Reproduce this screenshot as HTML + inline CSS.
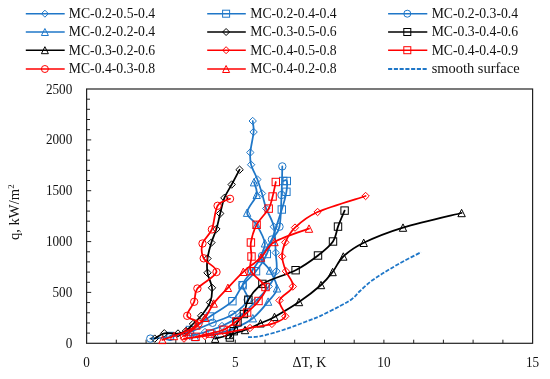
<!DOCTYPE html><html><head><meta charset="utf-8"><title>Boiling curves</title>
<style>html,body{margin:0;padding:0;background:#fff}svg{display:block}text{font-family:"Liberation Serif","DejaVu Serif",serif;fill:#111}</style></head><body>
<svg width="550" height="379" viewBox="0 0 550 379">
<rect width="550" height="379" fill="#fff"/>
<rect x="86.6" y="89.0" width="446.0" height="254.3" fill="none" stroke="#222" stroke-width="1.2"/>
<path d="M116.3 343.3V339.7M146.1 343.3V339.7M175.8 343.3V339.7M205.5 343.3V339.7M235.3 343.3V339.7M265.0 343.3V339.7M294.7 343.3V339.7M324.5 343.3V339.7M354.2 343.3V339.7M383.9 343.3V339.7M413.7 343.3V339.7M443.4 343.3V339.7M473.1 343.3V339.7M502.9 343.3V339.7M86.6 333.1H90.0M86.6 323.0H90.0M86.6 312.8H90.0M86.6 302.6H90.0M86.6 292.4H91.2M86.6 282.3H90.0M86.6 272.1H90.0M86.6 261.9H90.0M86.6 251.8H90.0M86.6 241.6H91.2M86.6 231.4H90.0M86.6 221.2H90.0M86.6 211.1H90.0M86.6 200.9H90.0M86.6 190.7H91.2M86.6 180.5H90.0M86.6 170.4H90.0M86.6 160.2H90.0M86.6 150.0H90.0M86.6 139.9H91.2M86.6 129.7H90.0M86.6 119.5H90.0M86.6 109.3H90.0M86.6 99.2H90.0" stroke="#222" stroke-width="1" fill="none"/>
<text x="65.7" y="347.8" font-size="14" textLength="6.6" lengthAdjust="spacingAndGlyphs">0</text>
<text x="52.5" y="296.9" font-size="14" textLength="19.8" lengthAdjust="spacingAndGlyphs">500</text>
<text x="45.9" y="246.1" font-size="14" textLength="26.4" lengthAdjust="spacingAndGlyphs">1000</text>
<text x="45.9" y="195.2" font-size="14" textLength="26.4" lengthAdjust="spacingAndGlyphs">1500</text>
<text x="45.9" y="144.4" font-size="14" textLength="26.4" lengthAdjust="spacingAndGlyphs">2000</text>
<text x="45.9" y="93.5" font-size="14" textLength="26.4" lengthAdjust="spacingAndGlyphs">2500</text>
<text x="83.3" y="367.4" font-size="14" textLength="6.6" lengthAdjust="spacingAndGlyphs">0</text>
<text x="232.0" y="367.4" font-size="14" textLength="6.6" lengthAdjust="spacingAndGlyphs">5</text>
<text x="377.3" y="367.4" font-size="14" textLength="13.2" lengthAdjust="spacingAndGlyphs">10</text>
<text x="526.0" y="367.4" font-size="14" textLength="13.2" lengthAdjust="spacingAndGlyphs">15</text>
<text x="292.6" y="367.4" font-size="14" textLength="33.7" lengthAdjust="spacingAndGlyphs">ΔT, K</text>
<text transform="translate(18.6 240.1) rotate(-90)" font-size="14" textLength="55.7" lengthAdjust="spacingAndGlyphs">q, kW/m<tspan dy="-4.5" font-size="8.5">2</tspan></text>
<path d="M248.0 337.2 C250.0 337.1 255.5 337.1 260.0 336.3 C264.5 335.5 270.0 333.9 275.0 332.5 C280.0 331.1 285.0 329.4 290.0 327.7 C295.0 325.9 299.8 324.0 305.0 322.0 C310.2 320.0 315.2 318.3 321.0 315.6 C326.8 312.9 334.8 308.8 340.0 306.0 C345.2 303.2 348.7 301.5 352.0 299.0 C355.3 296.5 357.0 293.8 360.0 291.0 C363.0 288.2 366.7 284.6 370.0 282.0 C373.3 279.4 376.7 277.4 380.0 275.2 C383.3 273.0 386.0 271.4 390.0 269.0 C394.0 266.6 398.8 263.8 404.0 261.0 C409.2 258.2 418.2 253.7 421.0 252.2" fill="none" stroke="#1f77c8" stroke-width="1.8" stroke-dasharray="4.1 1.65"/>
<g>
<path d="M252.7 121.0 C252.8 122.8 254.0 126.8 253.6 132.0 C253.2 137.2 250.7 147.1 250.3 152.5 C249.9 157.9 249.9 160.2 251.1 164.7 C252.3 169.2 255.6 174.7 257.4 179.5 C259.2 184.3 260.5 188.7 262.0 193.5 C263.5 198.3 264.2 203.0 266.2 208.5 C268.2 214.0 272.2 219.3 273.8 226.7 C275.4 234.1 275.3 245.3 275.7 252.7 C276.1 260.1 277.6 265.6 276.4 271.2 C275.2 276.8 272.3 281.3 268.7 286.4 C265.1 291.5 259.8 297.1 255.0 302.0 C250.2 306.9 245.5 312.0 240.0 316.0 C234.5 320.0 227.8 323.3 222.0 326.0 C216.2 328.7 210.3 330.3 205.0 332.0 C199.7 333.7 192.5 335.3 190.0 336.0" fill="none" stroke="#1f77c8" stroke-width="1.75" stroke-linejoin="round" stroke-linecap="round"/>
<path d="M252.7 117.3L256.4 121.0L252.7 124.7L249.0 121.0Z" fill="none" stroke="#1f77c8" stroke-width="1.0"/><path d="M253.6 128.3L257.3 132.0L253.6 135.7L249.9 132.0Z" fill="none" stroke="#1f77c8" stroke-width="1.0"/><path d="M250.3 148.8L254.0 152.5L250.3 156.2L246.6 152.5Z" fill="none" stroke="#1f77c8" stroke-width="1.0"/><path d="M251.1 161.0L254.8 164.7L251.1 168.4L247.4 164.7Z" fill="none" stroke="#1f77c8" stroke-width="1.0"/><path d="M257.4 175.8L261.1 179.5L257.4 183.2L253.7 179.5Z" fill="none" stroke="#1f77c8" stroke-width="1.0"/><path d="M262.0 189.8L265.7 193.5L262.0 197.2L258.3 193.5Z" fill="none" stroke="#1f77c8" stroke-width="1.0"/><path d="M266.2 204.8L269.9 208.5L266.2 212.2L262.5 208.5Z" fill="none" stroke="#1f77c8" stroke-width="1.0"/><path d="M273.8 223.0L277.5 226.7L273.8 230.4L270.1 226.7Z" fill="none" stroke="#1f77c8" stroke-width="1.0"/><path d="M275.7 249.0L279.4 252.7L275.7 256.4L272.0 252.7Z" fill="none" stroke="#1f77c8" stroke-width="1.0"/><path d="M276.4 267.5L280.1 271.2L276.4 274.9L272.7 271.2Z" fill="none" stroke="#1f77c8" stroke-width="1.0"/><path d="M268.7 282.7L272.4 286.4L268.7 290.1L265.0 286.4Z" fill="none" stroke="#1f77c8" stroke-width="1.0"/><path d="M255.0 298.3L258.7 302.0L255.0 305.7L251.3 302.0Z" fill="none" stroke="#1f77c8" stroke-width="1.0"/><path d="M240.0 312.3L243.7 316.0L240.0 319.7L236.3 316.0Z" fill="none" stroke="#1f77c8" stroke-width="1.0"/><path d="M222.0 322.3L225.7 326.0L222.0 329.7L218.3 326.0Z" fill="none" stroke="#1f77c8" stroke-width="1.0"/><path d="M205.0 328.3L208.7 332.0L205.0 335.7L201.3 332.0Z" fill="none" stroke="#1f77c8" stroke-width="1.0"/><path d="M190.0 332.3L193.7 336.0L190.0 339.7L186.3 336.0Z" fill="none" stroke="#1f77c8" stroke-width="1.0"/>
</g>
<g>
<path d="M283.2 181.0 C283.8 181.0 286.3 179.2 286.8 181.0 C287.3 182.8 287.2 187.1 286.4 191.8 C285.6 196.6 285.1 199.1 281.8 209.5 C278.5 219.9 271.1 243.7 266.8 254.0 C262.5 264.3 260.0 266.0 256.0 271.2 C252.0 276.4 246.5 280.2 242.6 285.2 C238.7 290.2 237.8 296.0 232.4 301.2 C227.0 306.4 217.1 311.7 210.0 316.5 C202.9 321.3 196.7 326.8 190.0 330.0 C183.3 333.2 173.3 335.0 170.0 336.0" fill="none" stroke="#1f77c8" stroke-width="1.75" stroke-linejoin="round" stroke-linecap="round"/>
<rect x="279.5" y="177.3" width="7.4" height="7.4" fill="none" stroke="#1f77c8" stroke-width="1.0"/><rect x="283.1" y="177.3" width="7.4" height="7.4" fill="none" stroke="#1f77c8" stroke-width="1.0"/><rect x="282.7" y="188.1" width="7.4" height="7.4" fill="none" stroke="#1f77c8" stroke-width="1.0"/><rect x="278.1" y="205.8" width="7.4" height="7.4" fill="none" stroke="#1f77c8" stroke-width="1.0"/><rect x="263.1" y="250.3" width="7.4" height="7.4" fill="none" stroke="#1f77c8" stroke-width="1.0"/><rect x="252.3" y="267.5" width="7.4" height="7.4" fill="none" stroke="#1f77c8" stroke-width="1.0"/><rect x="238.9" y="281.5" width="7.4" height="7.4" fill="none" stroke="#1f77c8" stroke-width="1.0"/><rect x="228.7" y="297.5" width="7.4" height="7.4" fill="none" stroke="#1f77c8" stroke-width="1.0"/><rect x="206.3" y="312.8" width="7.4" height="7.4" fill="none" stroke="#1f77c8" stroke-width="1.0"/><rect x="186.3" y="326.3" width="7.4" height="7.4" fill="none" stroke="#1f77c8" stroke-width="1.0"/><rect x="166.3" y="332.3" width="7.4" height="7.4" fill="none" stroke="#1f77c8" stroke-width="1.0"/>
</g>
<g>
<path d="M282.3 166.4 C282.2 171.2 282.0 184.9 281.5 195.0 C281.0 205.1 281.1 219.3 279.5 226.7 C277.9 234.1 274.8 234.6 271.9 239.5 C269.0 244.4 265.3 250.8 262.0 256.0 C258.7 261.2 255.2 266.1 252.0 271.0 C248.8 275.9 243.3 280.3 242.6 285.1 C241.9 289.9 249.4 294.8 247.7 299.7 C246.0 304.6 238.2 310.6 232.4 314.5 C226.6 318.4 219.7 319.9 212.6 322.8 C205.5 325.7 197.1 329.6 190.0 332.0 C182.9 334.4 176.6 335.9 170.0 337.0 C163.4 338.1 153.6 338.3 150.3 338.6" fill="none" stroke="#1f77c8" stroke-width="1.75" stroke-linejoin="round" stroke-linecap="round"/>
<circle cx="282.3" cy="166.4" r="3.7" fill="none" stroke="#1f77c8" stroke-width="1.0"/><circle cx="281.5" cy="195.0" r="3.7" fill="none" stroke="#1f77c8" stroke-width="1.0"/><circle cx="279.5" cy="226.7" r="3.7" fill="none" stroke="#1f77c8" stroke-width="1.0"/><circle cx="271.9" cy="239.5" r="3.7" fill="none" stroke="#1f77c8" stroke-width="1.0"/><circle cx="262.0" cy="256.0" r="3.7" fill="none" stroke="#1f77c8" stroke-width="1.0"/><circle cx="252.0" cy="271.0" r="3.7" fill="none" stroke="#1f77c8" stroke-width="1.0"/><circle cx="242.6" cy="285.1" r="3.7" fill="none" stroke="#1f77c8" stroke-width="1.0"/><circle cx="247.7" cy="299.7" r="3.7" fill="none" stroke="#1f77c8" stroke-width="1.0"/><circle cx="232.4" cy="314.5" r="3.7" fill="none" stroke="#1f77c8" stroke-width="1.0"/><circle cx="212.6" cy="322.8" r="3.7" fill="none" stroke="#1f77c8" stroke-width="1.0"/><circle cx="190.0" cy="332.0" r="3.7" fill="none" stroke="#1f77c8" stroke-width="1.0"/><circle cx="170.0" cy="337.0" r="3.7" fill="none" stroke="#1f77c8" stroke-width="1.0"/><circle cx="150.3" cy="338.6" r="3.7" fill="none" stroke="#1f77c8" stroke-width="1.0"/>
</g>
<g>
<path d="M254.0 182.2 C254.4 184.3 257.8 189.7 256.7 194.8 C255.5 199.9 247.1 207.7 247.1 212.7 C247.1 217.7 253.6 219.7 256.6 224.8 C259.6 229.9 264.2 237.7 264.9 243.3 C265.6 248.9 260.1 254.0 261.0 258.5 C261.9 263.0 267.3 265.5 270.0 270.5 C272.7 275.5 277.3 283.1 277.0 288.3 C276.7 293.5 272.1 296.6 268.1 301.6 C264.1 306.6 258.3 313.8 252.8 318.2 C247.3 322.6 241.3 325.4 235.0 328.0 C228.7 330.6 221.7 332.5 215.0 334.0 C208.3 335.5 198.3 336.5 195.0 337.0" fill="none" stroke="#1f77c8" stroke-width="1.75" stroke-linejoin="round" stroke-linecap="round"/>
<path d="M254.0 178.5L257.7 185.9L250.3 185.9Z" fill="none" stroke="#1f77c8" stroke-width="1.0"/><path d="M256.7 191.1L260.4 198.5L253.0 198.5Z" fill="none" stroke="#1f77c8" stroke-width="1.0"/><path d="M247.1 209.0L250.8 216.4L243.4 216.4Z" fill="none" stroke="#1f77c8" stroke-width="1.0"/><path d="M256.6 221.1L260.3 228.5L252.9 228.5Z" fill="none" stroke="#1f77c8" stroke-width="1.0"/><path d="M264.9 239.6L268.6 247.0L261.2 247.0Z" fill="none" stroke="#1f77c8" stroke-width="1.0"/><path d="M261.0 254.8L264.7 262.2L257.3 262.2Z" fill="none" stroke="#1f77c8" stroke-width="1.0"/><path d="M270.0 266.8L273.7 274.2L266.3 274.2Z" fill="none" stroke="#1f77c8" stroke-width="1.0"/><path d="M277.0 284.6L280.7 292.0L273.3 292.0Z" fill="none" stroke="#1f77c8" stroke-width="1.0"/><path d="M268.1 297.9L271.8 305.3L264.4 305.3Z" fill="none" stroke="#1f77c8" stroke-width="1.0"/><path d="M252.8 314.5L256.5 321.9L249.1 321.9Z" fill="none" stroke="#1f77c8" stroke-width="1.0"/><path d="M235.0 324.3L238.7 331.7L231.3 331.7Z" fill="none" stroke="#1f77c8" stroke-width="1.0"/><path d="M215.0 330.3L218.7 337.7L211.3 337.7Z" fill="none" stroke="#1f77c8" stroke-width="1.0"/><path d="M195.0 333.3L198.7 340.7L191.3 340.7Z" fill="none" stroke="#1f77c8" stroke-width="1.0"/>
</g>
<g>
<path d="M239.6 169.7 C238.3 172.2 234.2 179.8 231.7 184.5 C229.2 189.2 226.3 193.1 224.4 197.9 C222.5 202.7 221.5 208.3 220.2 213.5 C218.9 218.7 217.9 224.2 216.4 229.0 C214.9 233.8 212.9 237.7 211.4 242.6 C209.9 247.5 208.2 253.5 207.5 258.5 C206.8 263.5 206.8 267.9 207.5 272.8 C208.2 277.7 211.6 282.9 212.0 287.8 C212.4 292.8 211.8 297.8 210.0 302.5 C208.2 307.2 204.0 312.2 201.2 315.8 C198.4 319.4 195.5 321.5 193.0 324.0 C190.5 326.5 188.5 329.4 186.0 331.0 C183.5 332.6 181.6 333.1 178.0 333.5 C174.4 333.9 168.2 332.4 164.3 333.3 C160.4 334.2 156.3 337.7 154.7 338.6" fill="none" stroke="#000000" stroke-width="1.75" stroke-linejoin="round" stroke-linecap="round"/>
<path d="M239.6 166.0L243.3 169.7L239.6 173.4L235.9 169.7Z" fill="none" stroke="#000000" stroke-width="1.0"/><path d="M231.7 180.8L235.4 184.5L231.7 188.2L228.0 184.5Z" fill="none" stroke="#000000" stroke-width="1.0"/><path d="M224.4 194.2L228.1 197.9L224.4 201.6L220.7 197.9Z" fill="none" stroke="#000000" stroke-width="1.0"/><path d="M220.2 209.8L223.9 213.5L220.2 217.2L216.5 213.5Z" fill="none" stroke="#000000" stroke-width="1.0"/><path d="M216.4 225.3L220.1 229.0L216.4 232.7L212.7 229.0Z" fill="none" stroke="#000000" stroke-width="1.0"/><path d="M211.4 238.9L215.1 242.6L211.4 246.3L207.7 242.6Z" fill="none" stroke="#000000" stroke-width="1.0"/><path d="M207.5 254.8L211.2 258.5L207.5 262.2L203.8 258.5Z" fill="none" stroke="#000000" stroke-width="1.0"/><path d="M207.5 269.1L211.2 272.8L207.5 276.5L203.8 272.8Z" fill="none" stroke="#000000" stroke-width="1.0"/><path d="M212.0 284.1L215.7 287.8L212.0 291.5L208.3 287.8Z" fill="none" stroke="#000000" stroke-width="1.0"/><path d="M210.0 298.8L213.7 302.5L210.0 306.2L206.3 302.5Z" fill="none" stroke="#000000" stroke-width="1.0"/><path d="M201.2 312.1L204.9 315.8L201.2 319.5L197.5 315.8Z" fill="none" stroke="#000000" stroke-width="1.0"/><path d="M193.0 320.3L196.7 324.0L193.0 327.7L189.3 324.0Z" fill="none" stroke="#000000" stroke-width="1.0"/><path d="M186.0 327.3L189.7 331.0L186.0 334.7L182.3 331.0Z" fill="none" stroke="#000000" stroke-width="1.0"/><path d="M178.0 329.8L181.7 333.5L178.0 337.2L174.3 333.5Z" fill="none" stroke="#000000" stroke-width="1.0"/><path d="M164.3 329.6L168.0 333.3L164.3 337.0L160.6 333.3Z" fill="none" stroke="#000000" stroke-width="1.0"/><path d="M154.7 334.9L158.4 338.6L154.7 342.3L151.0 338.6Z" fill="none" stroke="#000000" stroke-width="1.0"/>
</g>
<g>
<path d="M344.6 210.6 C343.5 213.3 339.9 221.4 338.0 226.6 C336.1 231.8 336.3 236.7 333.0 241.5 C329.7 246.3 324.2 250.7 318.0 255.5 C311.8 260.3 304.9 265.5 295.6 270.2 C286.3 274.9 270.3 279.0 262.4 283.9 C254.5 288.8 251.5 294.7 248.4 299.7 C245.3 304.7 245.7 310.2 243.9 314.0 C242.1 317.8 239.2 319.4 237.5 322.3 C235.8 325.2 235.0 328.7 233.7 331.2 C232.4 333.7 230.5 336.4 229.9 337.5" fill="none" stroke="#000000" stroke-width="1.75" stroke-linejoin="round" stroke-linecap="round"/>
<rect x="340.9" y="206.9" width="7.4" height="7.4" fill="none" stroke="#000000" stroke-width="1.0"/><rect x="334.3" y="222.9" width="7.4" height="7.4" fill="none" stroke="#000000" stroke-width="1.0"/><rect x="329.3" y="237.8" width="7.4" height="7.4" fill="none" stroke="#000000" stroke-width="1.0"/><rect x="314.3" y="251.8" width="7.4" height="7.4" fill="none" stroke="#000000" stroke-width="1.0"/><rect x="291.9" y="266.5" width="7.4" height="7.4" fill="none" stroke="#000000" stroke-width="1.0"/><rect x="258.7" y="280.2" width="7.4" height="7.4" fill="none" stroke="#000000" stroke-width="1.0"/><rect x="244.7" y="296.0" width="7.4" height="7.4" fill="none" stroke="#000000" stroke-width="1.0"/><rect x="240.2" y="310.3" width="7.4" height="7.4" fill="none" stroke="#000000" stroke-width="1.0"/><rect x="233.8" y="318.6" width="7.4" height="7.4" fill="none" stroke="#000000" stroke-width="1.0"/><rect x="230.0" y="327.5" width="7.4" height="7.4" fill="none" stroke="#000000" stroke-width="1.0"/><rect x="226.2" y="333.8" width="7.4" height="7.4" fill="none" stroke="#000000" stroke-width="1.0"/>
</g>
<g>
<path d="M461.6 213.0 C451.8 215.4 419.3 222.6 403.0 227.6 C386.7 232.6 373.6 238.0 363.7 242.8 C353.8 247.6 348.5 251.6 343.3 256.5 C338.1 261.4 336.3 267.2 332.6 272.0 C328.9 276.8 326.6 280.0 321.0 285.0 C315.4 290.0 306.8 296.7 299.0 302.0 C291.2 307.3 280.9 313.3 274.5 316.9 C268.1 320.4 265.4 321.1 260.5 323.3 C255.6 325.5 250.2 328.1 245.0 330.0 C239.8 331.9 234.0 333.6 229.0 335.0 C224.0 336.4 217.5 338.1 215.2 338.7" fill="none" stroke="#000000" stroke-width="1.75" stroke-linejoin="round" stroke-linecap="round"/>
<path d="M461.6 209.3L465.3 216.7L457.9 216.7Z" fill="none" stroke="#000000" stroke-width="1.0"/><path d="M403.0 223.9L406.7 231.3L399.3 231.3Z" fill="none" stroke="#000000" stroke-width="1.0"/><path d="M363.7 239.1L367.4 246.5L360.0 246.5Z" fill="none" stroke="#000000" stroke-width="1.0"/><path d="M343.3 252.8L347.0 260.2L339.6 260.2Z" fill="none" stroke="#000000" stroke-width="1.0"/><path d="M332.6 268.3L336.3 275.7L328.9 275.7Z" fill="none" stroke="#000000" stroke-width="1.0"/><path d="M321.0 281.3L324.7 288.7L317.3 288.7Z" fill="none" stroke="#000000" stroke-width="1.0"/><path d="M299.0 298.3L302.7 305.7L295.3 305.7Z" fill="none" stroke="#000000" stroke-width="1.0"/><path d="M274.5 313.2L278.2 320.6L270.8 320.6Z" fill="none" stroke="#000000" stroke-width="1.0"/><path d="M260.5 319.6L264.2 327.0L256.8 327.0Z" fill="none" stroke="#000000" stroke-width="1.0"/><path d="M245.0 326.3L248.7 333.7L241.3 333.7Z" fill="none" stroke="#000000" stroke-width="1.0"/><path d="M229.0 331.3L232.7 338.7L225.3 338.7Z" fill="none" stroke="#000000" stroke-width="1.0"/><path d="M215.2 335.0L218.9 342.4L211.5 342.4Z" fill="none" stroke="#000000" stroke-width="1.0"/>
</g>
<g>
<path d="M365.6 196.0 C357.6 198.7 329.4 206.7 317.6 212.0 C305.8 217.3 300.4 222.5 295.0 227.6 C289.6 232.7 287.4 237.5 285.3 242.3 C283.2 247.1 282.0 251.7 282.1 256.5 C282.2 261.3 284.1 266.2 285.9 271.2 C287.7 276.2 294.0 281.6 292.9 286.5 C291.8 291.4 280.8 295.4 279.5 300.4 C278.2 305.4 286.6 312.4 285.3 316.3 C284.0 320.2 277.8 321.9 271.9 323.9 C266.0 325.8 257.8 326.5 250.0 328.0 C242.2 329.5 232.5 331.7 225.0 333.0 C217.5 334.3 211.8 335.1 205.0 336.0 C198.2 336.9 187.5 338.2 184.0 338.6" fill="none" stroke="#ff0000" stroke-width="1.75" stroke-linejoin="round" stroke-linecap="round"/>
<path d="M365.6 192.3L369.3 196.0L365.6 199.7L361.9 196.0Z" fill="none" stroke="#ff0000" stroke-width="1.0"/><path d="M317.6 208.3L321.3 212.0L317.6 215.7L313.9 212.0Z" fill="none" stroke="#ff0000" stroke-width="1.0"/><path d="M295.0 223.9L298.7 227.6L295.0 231.3L291.3 227.6Z" fill="none" stroke="#ff0000" stroke-width="1.0"/><path d="M285.3 238.6L289.0 242.3L285.3 246.0L281.6 242.3Z" fill="none" stroke="#ff0000" stroke-width="1.0"/><path d="M282.1 252.8L285.8 256.5L282.1 260.2L278.4 256.5Z" fill="none" stroke="#ff0000" stroke-width="1.0"/><path d="M285.9 267.5L289.6 271.2L285.9 274.9L282.2 271.2Z" fill="none" stroke="#ff0000" stroke-width="1.0"/><path d="M292.9 282.8L296.6 286.5L292.9 290.2L289.2 286.5Z" fill="none" stroke="#ff0000" stroke-width="1.0"/><path d="M279.5 296.7L283.2 300.4L279.5 304.1L275.8 300.4Z" fill="none" stroke="#ff0000" stroke-width="1.0"/><path d="M285.3 312.6L289.0 316.3L285.3 320.0L281.6 316.3Z" fill="none" stroke="#ff0000" stroke-width="1.0"/><path d="M271.9 320.2L275.6 323.9L271.9 327.6L268.2 323.9Z" fill="none" stroke="#ff0000" stroke-width="1.0"/><path d="M250.0 324.3L253.7 328.0L250.0 331.7L246.3 328.0Z" fill="none" stroke="#ff0000" stroke-width="1.0"/><path d="M225.0 329.3L228.7 333.0L225.0 336.7L221.3 333.0Z" fill="none" stroke="#ff0000" stroke-width="1.0"/><path d="M205.0 332.3L208.7 336.0L205.0 339.7L201.3 336.0Z" fill="none" stroke="#ff0000" stroke-width="1.0"/><path d="M184.0 334.9L187.7 338.6L184.0 342.3L180.3 338.6Z" fill="none" stroke="#ff0000" stroke-width="1.0"/>
</g>
<g>
<path d="M275.8 182.0 C275.3 184.4 273.8 192.1 272.6 196.5 C271.4 200.9 271.4 203.9 268.7 208.6 C266.0 213.3 259.6 219.2 256.6 224.8 C253.6 230.5 251.8 237.2 250.9 242.5 C250.1 247.8 251.5 251.7 251.5 256.5 C251.5 261.3 248.6 266.1 250.9 271.2 C253.2 276.3 264.2 282.0 265.5 287.0 C266.8 292.0 261.6 296.8 258.5 301.0 C255.4 305.2 250.8 309.1 247.1 312.5 C243.4 315.9 240.1 318.6 236.2 321.5 C232.3 324.4 227.9 327.8 223.5 329.8 C219.1 331.8 214.7 332.4 210.0 333.6 C205.3 334.8 197.9 336.3 195.5 336.8" fill="none" stroke="#ff0000" stroke-width="1.75" stroke-linejoin="round" stroke-linecap="round"/>
<rect x="272.1" y="178.3" width="7.4" height="7.4" fill="none" stroke="#ff0000" stroke-width="1.0"/><rect x="268.9" y="192.8" width="7.4" height="7.4" fill="none" stroke="#ff0000" stroke-width="1.0"/><rect x="265.0" y="204.9" width="7.4" height="7.4" fill="none" stroke="#ff0000" stroke-width="1.0"/><rect x="252.9" y="221.1" width="7.4" height="7.4" fill="none" stroke="#ff0000" stroke-width="1.0"/><rect x="247.2" y="238.8" width="7.4" height="7.4" fill="none" stroke="#ff0000" stroke-width="1.0"/><rect x="247.8" y="252.8" width="7.4" height="7.4" fill="none" stroke="#ff0000" stroke-width="1.0"/><rect x="247.2" y="267.5" width="7.4" height="7.4" fill="none" stroke="#ff0000" stroke-width="1.0"/><rect x="261.8" y="283.3" width="7.4" height="7.4" fill="none" stroke="#ff0000" stroke-width="1.0"/><rect x="254.8" y="297.3" width="7.4" height="7.4" fill="none" stroke="#ff0000" stroke-width="1.0"/><rect x="243.4" y="308.8" width="7.4" height="7.4" fill="none" stroke="#ff0000" stroke-width="1.0"/><rect x="232.5" y="317.8" width="7.4" height="7.4" fill="none" stroke="#ff0000" stroke-width="1.0"/><rect x="219.8" y="326.1" width="7.4" height="7.4" fill="none" stroke="#ff0000" stroke-width="1.0"/><rect x="206.3" y="329.9" width="7.4" height="7.4" fill="none" stroke="#ff0000" stroke-width="1.0"/><rect x="191.8" y="333.1" width="7.4" height="7.4" fill="none" stroke="#ff0000" stroke-width="1.0"/>
</g>
<g>
<path d="M230.0 198.8 C227.9 200.0 220.6 200.7 217.6 205.8 C214.6 210.9 214.4 223.1 211.9 229.4 C209.4 235.7 203.9 238.7 202.5 243.5 C201.1 248.3 201.4 253.6 203.7 258.3 C206.0 263.1 217.6 267.0 216.5 272.0 C215.4 277.0 201.1 283.5 197.4 288.5 C193.7 293.5 195.9 297.2 194.2 301.8 C192.5 306.4 186.5 312.2 187.2 315.8 C187.9 319.4 199.1 320.1 198.6 323.5 C198.1 326.9 186.4 334.1 184.0 336.2" fill="none" stroke="#ff0000" stroke-width="1.75" stroke-linejoin="round" stroke-linecap="round"/>
<circle cx="230.0" cy="198.8" r="3.7" fill="none" stroke="#ff0000" stroke-width="1.0"/><circle cx="217.6" cy="205.8" r="3.7" fill="none" stroke="#ff0000" stroke-width="1.0"/><circle cx="211.9" cy="229.4" r="3.7" fill="none" stroke="#ff0000" stroke-width="1.0"/><circle cx="202.5" cy="243.5" r="3.7" fill="none" stroke="#ff0000" stroke-width="1.0"/><circle cx="203.7" cy="258.3" r="3.7" fill="none" stroke="#ff0000" stroke-width="1.0"/><circle cx="216.5" cy="272.0" r="3.7" fill="none" stroke="#ff0000" stroke-width="1.0"/><circle cx="197.4" cy="288.5" r="3.7" fill="none" stroke="#ff0000" stroke-width="1.0"/><circle cx="194.2" cy="301.8" r="3.7" fill="none" stroke="#ff0000" stroke-width="1.0"/><circle cx="187.2" cy="315.8" r="3.7" fill="none" stroke="#ff0000" stroke-width="1.0"/><circle cx="198.6" cy="323.5" r="3.7" fill="none" stroke="#ff0000" stroke-width="1.0"/><circle cx="184.0" cy="336.2" r="3.7" fill="none" stroke="#ff0000" stroke-width="1.0"/>
</g>
<g>
<path d="M309.0 228.6 C303.2 230.8 282.5 237.2 274.5 242.0 C266.5 246.8 266.2 252.5 261.0 257.5 C255.8 262.5 248.8 266.8 243.3 271.8 C237.8 276.9 232.8 282.5 227.9 287.8 C223.0 293.1 217.5 298.5 213.7 303.5 C209.9 308.5 208.0 314.1 205.1 317.8 C202.2 321.5 199.7 323.2 196.5 325.5 C193.3 327.8 189.8 329.8 186.0 331.5 C182.2 333.2 177.9 334.6 174.0 336.0 C170.1 337.4 164.3 339.2 162.4 339.9" fill="none" stroke="#ff0000" stroke-width="1.75" stroke-linejoin="round" stroke-linecap="round"/>
<path d="M309.0 224.9L312.7 232.3L305.3 232.3Z" fill="none" stroke="#ff0000" stroke-width="1.0"/><path d="M274.5 238.3L278.2 245.7L270.8 245.7Z" fill="none" stroke="#ff0000" stroke-width="1.0"/><path d="M261.0 253.8L264.7 261.2L257.3 261.2Z" fill="none" stroke="#ff0000" stroke-width="1.0"/><path d="M243.3 268.1L247.0 275.5L239.6 275.5Z" fill="none" stroke="#ff0000" stroke-width="1.0"/><path d="M227.9 284.1L231.6 291.5L224.2 291.5Z" fill="none" stroke="#ff0000" stroke-width="1.0"/><path d="M213.7 299.8L217.4 307.2L210.0 307.2Z" fill="none" stroke="#ff0000" stroke-width="1.0"/><path d="M205.1 314.1L208.8 321.5L201.4 321.5Z" fill="none" stroke="#ff0000" stroke-width="1.0"/><path d="M196.5 321.8L200.2 329.2L192.8 329.2Z" fill="none" stroke="#ff0000" stroke-width="1.0"/><path d="M186.0 327.8L189.7 335.2L182.3 335.2Z" fill="none" stroke="#ff0000" stroke-width="1.0"/><path d="M174.0 332.3L177.7 339.7L170.3 339.7Z" fill="none" stroke="#ff0000" stroke-width="1.0"/><path d="M162.4 336.2L166.1 343.6L158.7 343.6Z" fill="none" stroke="#ff0000" stroke-width="1.0"/>
</g>
<path d="M25.8 13.7H64.7" stroke="#1f77c8" stroke-width="1.65" fill="none"/>
<path d="M44.9 10.2L48.4 13.7L44.9 17.2L41.4 13.7Z" fill="none" stroke="#1f77c8" stroke-width="1.0"/>
<text x="68.8" y="18.0" font-size="14" textLength="86.4" lengthAdjust="spacingAndGlyphs">MC-0.2-0.5-0.4</text>
<path d="M25.8 32.0H64.7" stroke="#1f77c8" stroke-width="1.65" fill="none"/>
<path d="M44.9 28.5L48.4 35.5L41.4 35.5Z" fill="none" stroke="#1f77c8" stroke-width="1.0"/>
<text x="68.8" y="36.3" font-size="14" textLength="86.4" lengthAdjust="spacingAndGlyphs">MC-0.2-0.2-0.4</text>
<path d="M25.8 50.2H64.7" stroke="#000000" stroke-width="1.65" fill="none"/>
<path d="M44.9 46.7L48.4 53.7L41.4 53.7Z" fill="none" stroke="#000000" stroke-width="1.0"/>
<text x="68.8" y="54.5" font-size="14" textLength="86.4" lengthAdjust="spacingAndGlyphs">MC-0.3-0.2-0.6</text>
<path d="M25.8 69.0H64.7" stroke="#ff0000" stroke-width="1.65" fill="none"/>
<circle cx="44.9" cy="69.0" r="3.5" fill="none" stroke="#ff0000" stroke-width="1.0"/>
<text x="68.8" y="73.3" font-size="14" textLength="86.4" lengthAdjust="spacingAndGlyphs">MC-0.4-0.3-0.8</text>
<path d="M207.2 13.7H245.8" stroke="#1f77c8" stroke-width="1.65" fill="none"/>
<rect x="222.6" y="10.2" width="7.0" height="7.0" fill="none" stroke="#1f77c8" stroke-width="1.0"/>
<text x="250.3" y="18.0" font-size="14" textLength="86.4" lengthAdjust="spacingAndGlyphs">MC-0.2-0.4-0.4</text>
<path d="M207.2 32.0H245.8" stroke="#000000" stroke-width="1.65" fill="none"/>
<path d="M226.1 28.5L229.6 32.0L226.1 35.5L222.6 32.0Z" fill="none" stroke="#000000" stroke-width="1.0"/>
<text x="250.3" y="36.3" font-size="14" textLength="86.4" lengthAdjust="spacingAndGlyphs">MC-0.3-0.5-0.6</text>
<path d="M207.2 50.2H245.8" stroke="#ff0000" stroke-width="1.65" fill="none"/>
<path d="M226.1 46.7L229.6 50.2L226.1 53.7L222.6 50.2Z" fill="none" stroke="#ff0000" stroke-width="1.0"/>
<text x="250.3" y="54.5" font-size="14" textLength="86.4" lengthAdjust="spacingAndGlyphs">MC-0.4-0.5-0.8</text>
<path d="M207.2 69.0H245.8" stroke="#ff0000" stroke-width="1.65" fill="none"/>
<path d="M226.1 65.5L229.6 72.5L222.6 72.5Z" fill="none" stroke="#ff0000" stroke-width="1.0"/>
<text x="250.3" y="73.3" font-size="14" textLength="86.4" lengthAdjust="spacingAndGlyphs">MC-0.4-0.2-0.8</text>
<path d="M388.1 13.7H427.3" stroke="#1f77c8" stroke-width="1.65" fill="none"/>
<circle cx="407.3" cy="13.7" r="3.5" fill="none" stroke="#1f77c8" stroke-width="1.0"/>
<text x="431.7" y="18.0" font-size="14" textLength="86.4" lengthAdjust="spacingAndGlyphs">MC-0.2-0.3-0.4</text>
<path d="M388.1 32.0H427.3" stroke="#000000" stroke-width="1.65" fill="none"/>
<rect x="403.8" y="28.5" width="7.0" height="7.0" fill="none" stroke="#000000" stroke-width="1.0"/>
<text x="431.7" y="36.3" font-size="14" textLength="86.4" lengthAdjust="spacingAndGlyphs">MC-0.3-0.4-0.6</text>
<path d="M388.1 50.2H427.3" stroke="#ff0000" stroke-width="1.65" fill="none"/>
<rect x="403.8" y="46.7" width="7.0" height="7.0" fill="none" stroke="#ff0000" stroke-width="1.0"/>
<text x="431.7" y="54.5" font-size="14" textLength="86.4" lengthAdjust="spacingAndGlyphs">MC-0.4-0.4-0.9</text>
<path d="M388.1 69.0H426.9" stroke="#1f77c8" stroke-width="1.8" stroke-dasharray="4.1 1.65" fill="none"/>
<text x="431.7" y="73.3" font-size="14" textLength="87.9" lengthAdjust="spacingAndGlyphs">smooth surface</text>
</svg></body></html>
